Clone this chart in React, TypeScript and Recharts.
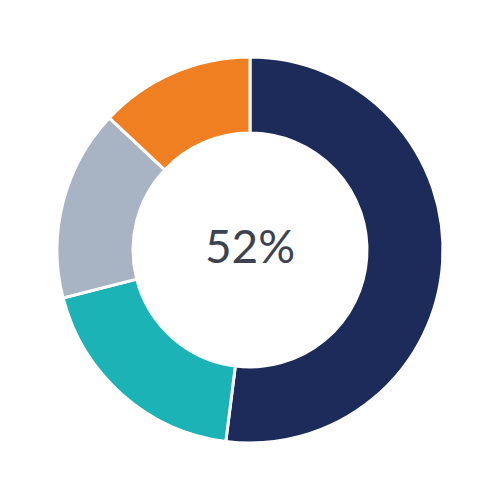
import { PieChart, Pie, Cell } from "recharts";

const categories = ["Navy", "Teal", "Grey", "Orange"];
const values = [52, 19, 16, 13];
const colors = ["#1c2b5a", "#1bb3b6", "#a8b4c3", "#f07f22"];
const centerLabel = "52%";

const data = categories.map((name, i) => ({ name, value: values[i] }));

export default function App() {
  return (
    <div style={{ position: "absolute", left: 0, top: 0, width: 500, height: 500, background: "#fff" }}>
      <PieChart width={500} height={500}>
        <Pie
          data={data}
          dataKey="value"
          nameKey="name"
          cx={245}
          cy={245}
          innerRadius={117}
          outerRadius={193}
          startAngle={90}
          endAngle={-270}
          stroke="#fff"
          strokeWidth={3}
          isAnimationActive={false}
        >
          {data.map((d, i) => (
            <Cell key={d.name} fill={colors[i]} />
          ))}
        </Pie>
        <text
          x={250}
          y={245}
          textAnchor="middle"
          dominantBaseline="central"
          fontFamily="Lato, sans-serif"
          fontWeight={400}
          fontSize={46}
          fill="#3c4250"
        >
          {centerLabel}
        </text>
      </PieChart>
    </div>
  );
}
